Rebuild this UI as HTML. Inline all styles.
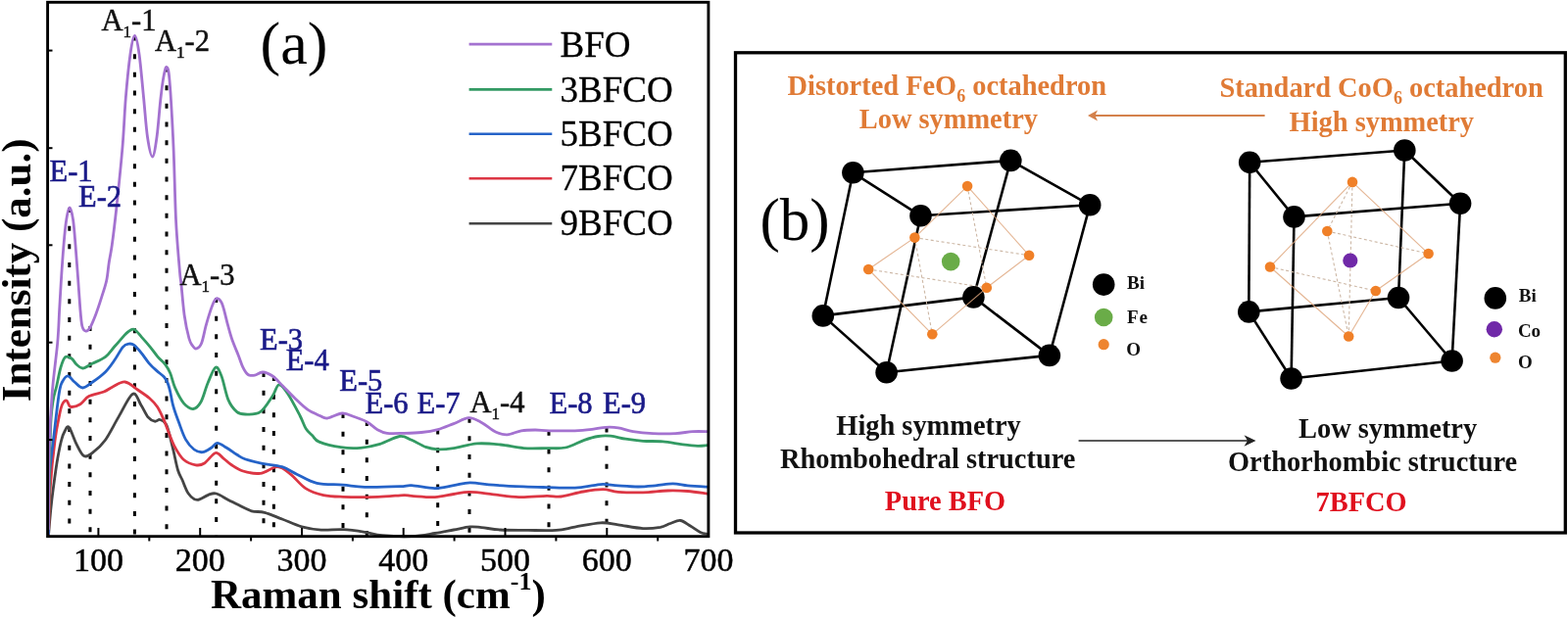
<!DOCTYPE html>
<html><head><meta charset="utf-8"><title>Raman spectra and crystal structure</title>
<style>
html,body{margin:0;padding:0;background:#fff;}
body{width:1600px;height:630px;overflow:hidden;}
svg{display:block;}
.serif{font-family:"Liberation Serif","Times New Roman",serif;}
</style></head><body>
<svg width="1600" height="630" viewBox="0 0 1600 630" font-family="Liberation Serif, Times New Roman, serif">
<rect width="1600" height="630" fill="#fff"/>
<g id="panel-a">
<line x1="70.8" y1="212.0" x2="70.8" y2="547" stroke="#000" stroke-width="3" stroke-dasharray="5 13.67"/>
<line x1="92.0" y1="333.0" x2="92.0" y2="547" stroke="#000" stroke-width="3" stroke-dasharray="5 13.67"/>
<line x1="137.4" y1="36.5" x2="137.4" y2="547" stroke="#000" stroke-width="3" stroke-dasharray="5 13.67"/>
<line x1="170.0" y1="68.5" x2="170.0" y2="547" stroke="#000" stroke-width="3" stroke-dasharray="5 13.67"/>
<line x1="220.7" y1="304.0" x2="220.7" y2="547" stroke="#000" stroke-width="3" stroke-dasharray="5 13.67"/>
<line x1="269.0" y1="380.0" x2="269.0" y2="547" stroke="#000" stroke-width="3" stroke-dasharray="5 13.67"/>
<line x1="279.4" y1="384.0" x2="279.4" y2="547" stroke="#000" stroke-width="3" stroke-dasharray="5 13.67"/>
<line x1="350.0" y1="422.0" x2="350.0" y2="547" stroke="#000" stroke-width="3" stroke-dasharray="5 13.67"/>
<line x1="374.3" y1="430.0" x2="374.3" y2="547" stroke="#000" stroke-width="3" stroke-dasharray="5 13.67"/>
<line x1="446.7" y1="438.6" x2="446.7" y2="547" stroke="#000" stroke-width="3" stroke-dasharray="5 13.67"/>
<line x1="479.0" y1="426.7" x2="479.0" y2="547" stroke="#000" stroke-width="3" stroke-dasharray="5 13.67"/>
<line x1="560.0" y1="439.8" x2="560.0" y2="547" stroke="#000" stroke-width="3" stroke-dasharray="5 13.67"/>
<line x1="619.0" y1="436.5" x2="619.0" y2="547" stroke="#000" stroke-width="3" stroke-dasharray="5 13.67"/>
<path d="M49.5,547.0 C49.7,544.3 50.2,537.0 50.8,531.0 C51.3,525.0 52.0,517.8 52.8,511.0 C53.6,504.2 54.5,497.2 55.5,490.0 C56.5,482.8 57.6,474.7 58.8,468.0 C60.0,461.3 61.3,454.7 62.5,450.0 C63.7,445.3 64.9,442.2 66.2,440.0 C67.5,437.8 68.5,434.3 70.5,436.5 C72.5,438.7 75.5,448.5 78.0,453.3 C80.5,458.1 82.9,464.0 85.7,465.5 C88.5,467.0 91.0,464.9 94.6,462.2 C98.2,459.5 102.9,455.6 107.3,449.5 C111.7,443.4 116.5,433.3 121.2,425.4 C125.9,417.5 131.7,404.2 135.5,402.3 C139.3,400.4 141.4,409.8 144.0,413.7 C146.6,417.6 148.7,423.1 151.0,425.9 C153.3,428.6 155.9,429.8 157.9,430.2 C159.9,430.6 161.3,428.1 163.2,428.5 C165.1,428.9 167.7,430.4 169.3,432.9 C170.9,435.4 171.5,438.6 172.8,443.3 C174.1,448.0 175.7,454.7 177.1,460.8 C178.5,466.9 180.0,475.1 181.5,480.0 C183.0,484.9 184.2,486.0 186.0,490.0 C187.8,494.0 189.8,500.6 192.3,504.0 C194.8,507.4 197.8,510.2 201.2,510.4 C204.6,510.6 209.3,506.4 212.6,505.3 C215.8,504.2 217.3,503.1 220.7,504.0 C224.1,504.9 229.2,508.5 233.0,510.4 C236.8,512.3 239.4,513.7 243.3,515.6 C247.2,517.5 252.2,520.5 256.7,521.8 C261.1,523.1 264.8,521.9 270.0,523.3 C275.2,524.7 281.5,527.6 287.8,530.0 C294.1,532.4 301.1,535.9 307.8,537.8 C314.5,539.6 320.8,540.6 327.8,541.1 C334.8,541.6 342.6,540.3 350.0,540.7 C357.4,541.1 365.5,542.3 372.2,543.3 C378.9,544.3 382.0,546.0 390.0,546.7 C398.0,547.4 411.0,548.0 420.0,547.6 C429.0,547.2 436.7,545.6 443.8,544.5 C450.9,543.4 456.9,542.1 462.9,541.0 C468.8,539.9 474.8,538.3 479.5,537.9 C484.2,537.5 486.2,538.1 491.4,538.6 C496.6,539.1 502.6,540.5 510.5,541.0 C518.4,541.5 529.5,541.3 539.0,541.4 C548.5,541.5 559.6,541.9 567.6,541.4 C575.6,540.9 579.1,539.4 586.7,538.1 C594.3,536.8 605.6,534.2 613.0,533.8 C620.4,533.4 623.6,534.8 630.8,535.8 C638.0,536.8 648.9,539.2 656.1,539.6 C663.3,540.0 669.2,539.1 673.9,538.3 C678.5,537.4 680.6,535.6 684.0,534.5 C687.4,533.4 690.8,531.1 694.2,531.5 C697.6,531.9 701.0,535.0 704.4,537.0 C707.8,539.0 711.6,542.0 714.5,543.4 C717.4,544.8 720.8,545.1 722.0,545.4" fill="none" stroke="#444444" stroke-width="2.8" stroke-linejoin="round" stroke-linecap="round"/>
<path d="M49.5,546.0 C49.8,537.7 50.3,512.4 51.4,496.4 C52.5,480.4 54.5,461.8 56.0,450.0 C57.5,438.2 59.0,431.6 60.3,425.4 C61.5,419.2 62.2,415.7 63.5,413.0 C64.8,410.3 66.6,408.6 68.0,409.0 C69.4,409.4 69.7,414.7 72.0,415.3 C74.3,415.9 78.8,414.5 81.9,412.7 C85.0,410.9 86.8,406.6 90.8,404.5 C94.8,402.4 102.0,401.6 106.0,400.0 C110.0,398.4 111.4,396.7 115.0,395.0 C118.6,393.3 123.3,389.5 127.6,390.0 C131.8,390.5 136.3,395.2 140.5,398.0 C144.7,400.8 149.3,403.8 152.7,406.7 C156.0,409.6 158.1,411.6 160.6,415.4 C163.1,419.2 165.5,424.8 167.5,429.4 C169.5,434.0 170.9,438.6 172.8,443.3 C174.7,448.0 176.4,452.9 178.9,457.3 C181.4,461.7 184.1,466.6 187.6,469.5 C191.1,472.4 196.3,474.2 199.8,474.8 C203.3,475.4 205.2,475.1 208.6,473.0 C211.9,470.9 216.7,463.4 219.9,462.5 C223.1,461.6 225.1,465.8 227.8,467.8 C230.5,469.8 232.6,472.3 236.0,474.5 C239.4,476.7 243.1,479.5 248.0,481.0 C252.9,482.5 259.7,484.0 265.6,483.3 C271.5,482.6 278.1,476.5 283.3,476.7 C288.5,476.9 291.9,480.7 296.7,484.4 C301.5,488.1 306.6,495.4 312.2,498.9 C317.8,502.4 323.7,504.2 330.0,505.6 C336.3,507.0 340.7,507.0 350.0,507.3 C359.3,507.6 375.2,507.6 385.6,507.3 C396.0,507.0 406.5,505.8 412.2,505.6 C417.9,505.5 414.7,506.1 420.0,506.4 C425.3,506.7 436.7,507.9 443.8,507.6 C450.9,507.3 456.9,505.4 462.9,504.5 C468.8,503.6 472.8,502.3 479.5,502.4 C486.2,502.4 495.0,503.9 503.3,504.8 C511.6,505.7 520.4,507.3 529.5,507.6 C538.6,507.9 550.9,506.5 558.0,506.4 C565.1,506.3 566.2,507.7 572.4,507.0 C578.6,506.3 588.0,503.2 595.2,502.0 C602.4,500.8 609.6,499.6 615.5,499.7 C621.4,499.8 624.0,501.8 630.8,502.3 C637.6,502.8 647.6,503.0 656.1,502.8 C664.6,502.6 673.9,501.2 681.5,501.0 C689.1,500.8 695.0,501.0 701.8,501.5 C708.5,502.0 718.6,503.7 722.0,504.1" fill="none" stroke="#dc3644" stroke-width="2.8" stroke-linejoin="round" stroke-linecap="round"/>
<path d="M49.5,545.0 C49.6,535.6 49.2,505.8 50.2,488.8 C51.2,471.8 53.5,457.6 55.2,443.0 C56.9,428.4 58.9,410.3 60.3,401.5 C61.7,392.7 62.0,392.9 63.5,390.0 C65.0,387.1 67.1,383.8 69.2,383.8 C71.3,383.8 73.5,388.0 76.0,390.0 C78.5,392.0 81.3,396.0 84.4,396.0 C87.5,396.0 90.7,392.7 94.6,390.0 C98.5,387.3 103.9,383.3 107.6,379.7 C111.2,376.1 113.5,372.5 116.5,368.3 C119.5,364.1 122.9,357.2 125.4,354.3 C127.9,351.4 129.8,351.4 131.7,351.1 C133.6,350.8 134.7,350.8 136.8,352.4 C138.9,354.0 141.9,357.5 144.4,360.6 C146.9,363.7 149.4,367.8 152.0,370.8 C154.6,373.8 157.1,376.1 159.7,378.4 C162.2,380.7 165.4,382.7 167.3,384.8 C169.2,386.9 170.0,388.6 171.1,391.1 C172.2,393.6 172.8,396.2 173.7,400.0 C174.6,403.8 175.1,408.5 176.5,413.7 C177.9,418.9 180.2,425.3 182.4,431.1 C184.6,436.9 186.8,444.0 189.4,448.6 C192.0,453.2 195.2,456.8 198.1,459.0 C201.0,461.2 203.9,462.0 206.8,461.7 C209.7,461.4 213.1,458.9 215.6,457.3 C218.1,455.8 219.1,452.4 221.7,452.4 C224.3,452.4 228.0,455.3 231.3,457.3 C234.7,459.3 238.7,462.4 241.8,464.3 C244.9,466.2 245.7,467.2 250.0,468.7 C254.3,470.2 261.5,472.0 267.8,473.3 C274.1,474.6 281.9,474.9 287.8,476.7 C293.7,478.5 297.4,481.6 303.3,484.4 C309.2,487.2 315.5,491.5 323.3,493.3 C331.1,495.1 341.9,494.4 350.0,495.1 C358.1,495.8 362.6,497.0 372.2,497.3 C381.8,497.6 399.8,497.0 407.8,496.7 C415.8,496.4 414.0,495.4 420.0,495.7 C426.0,496.0 436.7,498.6 443.8,498.6 C450.9,498.6 456.9,496.6 462.9,495.7 C468.8,494.8 472.8,493.0 479.5,492.9 C486.2,492.8 494.2,494.5 503.3,495.2 C512.4,495.9 525.2,496.5 534.3,496.9 C543.4,497.3 549.3,497.4 558.0,497.6 C566.7,497.8 578.8,498.4 586.7,498.1 C594.7,497.8 600.9,496.3 605.7,495.7 C610.5,495.1 611.3,494.4 615.5,494.4 C619.7,494.4 624.9,495.5 630.8,495.9 C636.7,496.3 644.8,497.0 651.1,497.0 C657.4,497.0 662.9,496.4 668.8,495.9 C674.7,495.4 681.1,493.9 686.6,493.9 C692.1,493.9 695.9,495.3 701.8,495.9 C707.7,496.4 718.6,497.0 722.0,497.2" fill="none" stroke="#2563c8" stroke-width="2.8" stroke-linejoin="round" stroke-linecap="round"/>
<path d="M49.5,540.0 C49.8,523.7 50.6,463.7 51.4,442.0 C52.1,420.3 52.9,418.0 54.0,410.0 C55.1,402.0 56.5,399.8 57.8,394.0 C59.1,388.2 60.5,379.9 62.0,375.0 C63.5,370.1 64.8,366.2 66.6,364.7 C68.4,363.2 71.1,364.8 73.0,366.0 C74.9,367.2 76.1,370.3 78.0,372.0 C79.9,373.7 81.6,376.2 84.4,376.0 C87.2,375.8 90.7,372.9 94.6,371.0 C98.5,369.1 103.9,367.2 107.6,364.4 C111.2,361.6 113.5,357.7 116.5,354.3 C119.5,350.9 123.1,346.7 125.4,344.1 C127.7,341.6 128.6,340.3 130.5,339.0 C132.4,337.7 134.5,335.4 136.8,336.3 C139.1,337.2 141.7,341.1 144.4,344.1 C147.2,347.1 150.5,350.9 153.3,354.3 C156.1,357.7 158.4,361.4 161.0,364.4 C163.6,367.4 166.5,369.3 168.6,372.1 C170.7,374.9 172.0,377.0 173.7,381.0 C175.4,385.0 176.4,391.1 178.7,396.2 C181.0,401.3 184.5,408.3 187.6,411.9 C190.7,415.4 194.3,417.8 197.2,417.5 C200.1,417.2 202.6,414.6 205.1,410.2 C207.6,405.8 209.6,396.8 212.1,391.0 C214.6,385.2 217.6,376.4 219.9,375.2 C222.2,374.0 223.8,378.5 226.0,384.0 C228.2,389.5 230.4,402.3 233.0,408.4 C235.6,414.5 238.9,418.2 241.8,420.6 C244.7,423.0 246.4,423.0 250.3,423.0 C254.2,423.0 260.9,423.8 265.5,420.7 C270.1,417.6 275.0,408.8 278.2,404.2 C281.4,399.6 282.1,393.2 284.6,392.8 C287.2,392.4 289.9,396.4 293.5,401.7 C297.1,407.0 303.0,418.5 306.1,424.5 C309.2,430.5 310.1,434.4 312.2,437.8 C314.3,441.2 316.6,442.6 318.8,444.8 C321.0,447.0 320.8,449.1 325.6,451.1 C330.4,453.1 340.8,455.7 347.8,456.7 C354.8,457.7 361.1,457.9 367.8,457.3 C374.5,456.7 381.1,455.3 387.8,453.3 C394.5,451.3 402.4,446.2 407.8,445.5 C413.2,444.8 415.6,447.5 420.0,449.3 C424.4,451.1 429.9,454.8 434.3,456.4 C438.8,458.0 441.9,458.6 446.7,458.8 C451.5,459.0 456.2,458.6 462.9,457.6 C469.6,456.6 478.8,453.5 486.7,452.9 C494.6,452.3 502.6,453.2 510.5,454.0 C518.4,454.8 526.4,457.0 534.3,457.6 C542.2,458.2 550.9,457.7 558.0,457.6 C565.1,457.5 570.6,458.4 577.0,457.0 C583.4,455.6 590.6,451.2 596.2,449.3 C601.8,447.4 606.0,446.2 610.5,445.5 C615.0,444.8 618.5,444.8 623.1,445.2 C627.8,445.6 632.9,447.3 638.4,448.2 C643.9,449.1 649.8,449.9 656.1,450.3 C662.4,450.7 669.6,450.2 676.4,450.8 C683.2,451.4 690.9,453.1 696.8,453.8 C702.7,454.6 707.8,455.2 712.0,455.3 C716.2,455.4 720.3,454.7 722.0,454.6" fill="none" stroke="#339a63" stroke-width="2.8" stroke-linejoin="round" stroke-linecap="round"/>
<path d="M49.5,540.0 C49.6,526.7 49.6,483.1 50.2,460.0 C50.8,436.9 51.8,419.8 53.2,401.5 C54.6,383.2 57.4,364.7 58.7,350.0 C60.0,335.3 60.1,324.9 60.8,313.5 C61.5,302.1 62.0,292.3 62.7,281.7 C63.4,271.1 64.2,259.6 65.0,250.0 C65.8,240.4 66.8,230.3 67.8,224.0 C68.8,217.7 69.9,212.0 71.0,212.0 C72.1,212.0 73.5,217.7 74.5,224.0 C75.5,230.3 76.2,240.4 77.0,250.0 C77.8,259.6 78.6,271.1 79.4,281.7 C80.2,292.3 81.0,305.0 81.7,313.5 C82.4,322.0 82.8,328.4 83.7,332.5 C84.6,336.6 86.0,337.6 87.3,338.0 C88.6,338.4 89.9,337.8 91.6,335.0 C93.3,332.2 95.5,326.8 97.6,321.4 C99.7,316.0 102.2,308.2 104.0,302.4 C105.8,296.6 107.5,292.1 108.7,286.5 C109.9,280.9 110.2,275.1 111.1,269.0 C112.0,262.9 113.0,259.2 114.3,250.0 C115.6,240.8 116.9,230.2 118.7,213.5 C120.5,196.8 123.4,168.9 125.0,150.0 C126.6,131.1 127.0,115.8 128.3,100.0 C129.6,84.2 131.5,65.6 133.0,55.0 C134.5,44.4 136.0,36.5 137.5,36.5 C139.0,36.5 140.5,44.4 142.0,55.0 C143.5,65.6 145.2,85.8 146.6,100.0 C148.0,114.2 149.0,130.0 150.5,140.0 C152.0,150.0 153.9,160.0 155.5,160.0 C157.1,160.0 158.6,150.0 160.0,140.0 C161.4,130.0 162.8,110.3 164.0,100.0 C165.2,89.7 166.0,83.2 167.0,78.0 C168.0,72.8 169.0,67.8 170.0,68.5 C171.0,69.2 171.8,68.4 173.0,82.0 C174.2,95.6 175.9,126.0 177.0,150.0 C178.1,174.0 178.5,204.8 179.6,226.0 C180.7,247.2 182.5,266.3 183.4,277.0 C184.3,287.7 184.1,282.6 184.9,290.0 C185.7,297.4 186.8,312.4 188.1,321.7 C189.4,330.9 191.5,340.3 192.9,345.5 C194.3,350.7 195.3,351.2 196.5,353.0 C197.7,354.8 198.8,356.4 200.3,356.0 C201.8,355.6 204.0,354.4 205.6,350.5 C207.2,346.6 208.6,338.2 210.1,332.7 C211.6,327.2 213.2,321.8 214.6,317.6 C216.0,313.5 217.2,310.0 218.4,307.8 C219.6,305.6 220.2,304.5 221.5,304.6 C222.8,304.7 224.7,306.4 225.9,308.6 C227.1,310.8 227.8,313.6 228.9,317.6 C230.0,321.6 231.3,327.7 232.7,332.7 C234.1,337.7 235.4,342.8 237.2,347.8 C239.0,352.8 241.5,358.4 243.3,362.9 C245.1,367.4 246.2,371.6 247.8,374.9 C249.4,378.2 251.1,381.1 253.1,382.5 C255.1,383.9 257.4,383.6 259.9,383.2 C262.4,382.8 264.9,379.9 268.0,380.0 C271.1,380.1 274.8,381.7 278.2,384.0 C281.6,386.3 284.6,390.2 288.4,394.0 C292.2,397.8 296.8,402.8 301.0,406.8 C305.2,410.8 309.6,415.2 313.8,418.2 C318.0,421.1 323.0,423.0 326.4,424.5 C329.8,426.0 330.2,427.4 334.0,427.0 C337.8,426.6 344.6,422.2 349.3,422.0 C354.0,421.8 357.8,424.3 362.0,425.8 C366.2,427.3 370.9,428.8 374.7,430.9 C378.5,433.0 381.4,436.6 384.8,438.5 C388.2,440.4 390.4,441.7 395.0,442.3 C399.6,442.9 406.9,442.4 412.7,442.3 C418.5,442.2 424.3,442.1 430.0,441.5 C435.7,440.9 441.2,440.1 446.7,438.6 C452.2,437.1 457.6,434.6 462.9,432.6 C468.2,430.6 473.6,426.9 478.3,426.7 C483.1,426.5 486.8,429.0 491.4,431.4 C496.0,433.8 501.3,438.9 505.7,441.0 C510.1,443.1 513.2,444.0 517.6,443.8 C522.0,443.6 527.1,440.6 531.9,439.8 C536.7,439.0 541.4,439.0 546.2,439.0 C551.0,439.0 553.8,439.7 560.5,439.8 C567.2,439.9 579.2,440.1 586.7,439.8 C594.2,439.5 600.5,438.7 605.7,438.1 C610.9,437.5 613.8,436.5 618.0,436.3 C622.2,436.1 626.1,436.1 630.8,436.8 C635.5,437.5 640.1,439.6 646.0,440.6 C651.9,441.6 659.1,442.3 666.3,442.6 C673.5,442.9 682.3,442.9 689.1,442.6 C695.9,442.3 701.4,440.9 706.9,440.6 C712.4,440.3 719.5,440.6 722.0,440.6" fill="none" stroke="#a472d0" stroke-width="2.8" stroke-linejoin="round" stroke-linecap="round"/>
<rect x="48.6" y="2.3" width="674.3" height="545.4" fill="none" stroke="#000" stroke-width="2.9"/>
<line x1="100.4" y1="547" x2="100.4" y2="539" stroke="#000" stroke-width="2"/>
<line x1="204.2" y1="547" x2="204.2" y2="539" stroke="#000" stroke-width="2"/>
<line x1="308.0" y1="547" x2="308.0" y2="539" stroke="#000" stroke-width="2"/>
<line x1="411.7" y1="547" x2="411.7" y2="539" stroke="#000" stroke-width="2"/>
<line x1="515.5" y1="547" x2="515.5" y2="539" stroke="#000" stroke-width="2"/>
<line x1="619.3" y1="547" x2="619.3" y2="539" stroke="#000" stroke-width="2"/>
<line x1="152.3" y1="548" x2="152.3" y2="552.5" stroke="#000" stroke-width="2"/>
<line x1="256.1" y1="548" x2="256.1" y2="552.5" stroke="#000" stroke-width="2"/>
<line x1="359.9" y1="548" x2="359.9" y2="552.5" stroke="#000" stroke-width="2"/>
<line x1="463.6" y1="548" x2="463.6" y2="552.5" stroke="#000" stroke-width="2"/>
<line x1="567.4" y1="548" x2="567.4" y2="552.5" stroke="#000" stroke-width="2"/>
<line x1="671.2" y1="548" x2="671.2" y2="552.5" stroke="#000" stroke-width="2"/>
<line x1="49" y1="51.6" x2="53.5" y2="51.6" stroke="#000" stroke-width="2"/>
<line x1="49" y1="151.2" x2="53.5" y2="151.2" stroke="#000" stroke-width="2"/>
<line x1="49" y1="250.3" x2="53.5" y2="250.3" stroke="#000" stroke-width="2"/>
<line x1="49" y1="349.7" x2="53.5" y2="349.7" stroke="#000" stroke-width="2"/>
<line x1="49" y1="449.1" x2="53.5" y2="449.1" stroke="#000" stroke-width="2"/>
<text x="100.4" y="582.6" font-size="34" text-anchor="middle" stroke="#000" stroke-width="0.5">100</text>
<text x="204.2" y="582.6" font-size="34" text-anchor="middle" stroke="#000" stroke-width="0.5">200</text>
<text x="308.0" y="582.6" font-size="34" text-anchor="middle" stroke="#000" stroke-width="0.5">300</text>
<text x="411.7" y="582.6" font-size="34" text-anchor="middle" stroke="#000" stroke-width="0.5">400</text>
<text x="515.5" y="582.6" font-size="34" text-anchor="middle" stroke="#000" stroke-width="0.5">500</text>
<text x="619.3" y="582.6" font-size="34" text-anchor="middle" stroke="#000" stroke-width="0.5">600</text>
<text x="723.1" y="582.6" font-size="34" text-anchor="middle" stroke="#000" stroke-width="0.5">700</text>
<text x="215" y="620.5" font-size="43" font-weight="bold">Raman shift (cm<tspan font-size="26" dy="-19">-1</tspan><tspan dy="19">)</tspan></text>
<text transform="translate(30.8,410.3) rotate(-90)" font-size="43" font-weight="bold">Intensity (a.u.)</text>
<text x="265.5" y="65" font-size="62">(a)</text>
<line x1="478.6" y1="45.1" x2="563.3" y2="45.1" stroke="#a472d0" stroke-width="2.6"/>
<text x="571.5" y="58.1" font-size="37" stroke="#000" stroke-width="0.3">BFO</text>
<line x1="478.6" y1="91.4" x2="563.3" y2="91.4" stroke="#339a63" stroke-width="2.6"/>
<text x="571.5" y="103.8" font-size="37" stroke="#000" stroke-width="0.3">3BFCO</text>
<line x1="478.6" y1="136.7" x2="563.3" y2="136.7" stroke="#2563c8" stroke-width="2.6"/>
<text x="571.5" y="148.9" font-size="37" stroke="#000" stroke-width="0.3">5BFCO</text>
<line x1="478.6" y1="182.2" x2="563.3" y2="182.2" stroke="#dc3644" stroke-width="2.6"/>
<text x="571.5" y="194.4" font-size="37" stroke="#000" stroke-width="0.3">7BFCO</text>
<line x1="478.6" y1="228.2" x2="563.3" y2="228.2" stroke="#444444" stroke-width="2.6"/>
<text x="571.5" y="240.0" font-size="37" stroke="#000" stroke-width="0.3">9BFCO</text>
<text x="103.5" y="30.5" font-size="30.5" fill="#111" stroke="#111" stroke-width="0.5">A<tspan font-size="17" dy="7">1</tspan><tspan dy="-7">-1</tspan></text>
<text x="158.0" y="52.0" font-size="30.5" fill="#111" stroke="#111" stroke-width="0.5">A<tspan font-size="17" dy="7">1</tspan><tspan dy="-7">-2</tspan></text>
<text x="183.5" y="291.0" font-size="30.5" fill="#111" stroke="#111" stroke-width="0.5">A<tspan font-size="17" dy="7">1</tspan><tspan dy="-7">-3</tspan></text>
<text x="479.5" y="421.4" font-size="30.5" fill="#111" stroke="#111" stroke-width="0.5">A<tspan font-size="17" dy="7">1</tspan><tspan dy="-7">-4</tspan></text>
<text x="50.5" y="184.8" font-size="30.5" fill="#1a1a88" stroke="#1a1a88" stroke-width="0.6">E-1</text>
<text x="80.0" y="210.7" font-size="30.5" fill="#1a1a88" stroke="#1a1a88" stroke-width="0.6">E-2</text>
<text x="265.0" y="356.5" font-size="30.5" fill="#1a1a88" stroke="#1a1a88" stroke-width="0.6">E-3</text>
<text x="291.7" y="377.6" font-size="30.5" fill="#1a1a88" stroke="#1a1a88" stroke-width="0.6">E-4</text>
<text x="346.3" y="399.1" font-size="30.5" fill="#1a1a88" stroke="#1a1a88" stroke-width="0.6">E-5</text>
<text x="372.5" y="421.8" font-size="30.5" fill="#1a1a88" stroke="#1a1a88" stroke-width="0.6">E-6</text>
<text x="425.5" y="421.6" font-size="30.5" fill="#1a1a88" stroke="#1a1a88" stroke-width="0.6">E-7</text>
<text x="560.5" y="421.6" font-size="30.5" fill="#1a1a88" stroke="#1a1a88" stroke-width="0.6">E-8</text>
<text x="615.0" y="421.6" font-size="30.5" fill="#1a1a88" stroke="#1a1a88" stroke-width="0.6">E-9</text>
</g>
<g id="panel-b">
<rect x="750.5" y="53.8" width="846.8" height="490.2" fill="none" stroke="#000" stroke-width="3.3"/>
<text x="775.5" y="244.5" font-size="61">(b)</text>
<g font-weight="bold" font-size="28.4" fill="#e07b36">
<text x="803.5" y="97">Distorted FeO<tspan font-size="18" dy="7">6</tspan><tspan dy="-7"> octahedron</tspan></text>
<text x="876.8" y="131">Low symmetry</text>
<text x="1244.4" y="99">Standard CoO<tspan font-size="18" dy="7">6</tspan><tspan dy="-7"> octahedron</tspan></text>
<text x="1315.6" y="133.7">High symmetry</text>
</g>
<line x1="1117" y1="118" x2="1290.6" y2="118" stroke="#d4814c" stroke-width="2.2"/>
<path d="M1110,118 L1120,112.6 L1117.5,118 L1120,123.4 Z" fill="#d4814c"/>
<g font-weight="bold" font-size="28.4" fill="#111">
<text x="853.3" y="444.3">High symmetry</text>
<text x="795.9" y="478.3">Rhombohedral structure</text>
<text x="1325" y="446.9">Low symmetry</text>
<text x="1253" y="480.8">Orthorhombic structure</text>
</g>
<g font-weight="bold" font-size="28.4" fill="#e0101e">
<text x="902.8" y="520.6">Pure BFO</text>
<text x="1342.5" y="522">7BFCO</text>
</g>
<line x1="1100.6" y1="450" x2="1276" y2="450" stroke="#222" stroke-width="1.6"/>
<path d="M1269.5,444.3 L1281.5,450 L1269.5,455.7 L1273,450 Z" fill="#222"/>
<line x1="870.4" y1="176.3" x2="1031.3" y2="163.9" stroke="#000" stroke-width="2.6"/>
<line x1="870.4" y1="176.3" x2="939.5" y2="220.3" stroke="#000" stroke-width="2.6"/>
<line x1="1031.3" y1="163.9" x2="1112.2" y2="209.3" stroke="#000" stroke-width="2.6"/>
<line x1="939.5" y1="220.3" x2="1112.2" y2="209.3" stroke="#000" stroke-width="2.6"/>
<line x1="839.8" y1="322.4" x2="993.4" y2="303.4" stroke="#000" stroke-width="2.6"/>
<line x1="839.8" y1="322.4" x2="904.6" y2="380.2" stroke="#000" stroke-width="2.6"/>
<line x1="993.4" y1="303.4" x2="1070.9" y2="362.9" stroke="#000" stroke-width="2.6"/>
<line x1="904.6" y1="380.2" x2="1070.9" y2="362.9" stroke="#000" stroke-width="2.6"/>
<line x1="870.4" y1="176.3" x2="839.8" y2="322.4" stroke="#000" stroke-width="2.6"/>
<line x1="1031.3" y1="163.9" x2="993.4" y2="303.4" stroke="#000" stroke-width="2.6"/>
<line x1="939.5" y1="220.3" x2="904.6" y2="380.2" stroke="#000" stroke-width="2.6"/>
<line x1="1112.2" y1="209.3" x2="1070.9" y2="362.9" stroke="#000" stroke-width="2.6"/>
<line x1="987.1" y1="190.1" x2="1006.8" y2="293.8" stroke="#cdb8a6" stroke-width="1.1" stroke-dasharray="3 2.5"/>
<line x1="933.4" y1="242.6" x2="951.3" y2="341.3" stroke="#cdb8a6" stroke-width="1.1" stroke-dasharray="3 2.5"/>
<line x1="933.4" y1="242.6" x2="1050.1" y2="260.8" stroke="#cdb8a6" stroke-width="1.1" stroke-dasharray="3 2.5"/>
<line x1="886.2" y1="275.0" x2="1006.8" y2="293.8" stroke="#cdb8a6" stroke-width="1.1" stroke-dasharray="3 2.5"/>
<circle cx="970.2" cy="267.1" r="9.3" fill="#6aac48"/>
<circle cx="870.4" cy="176.3" r="11.3" fill="#000"/>
<circle cx="1031.3" cy="163.9" r="11.3" fill="#000"/>
<circle cx="939.5" cy="220.3" r="11.3" fill="#000"/>
<circle cx="1112.2" cy="209.3" r="11.3" fill="#000"/>
<circle cx="839.8" cy="322.4" r="11.3" fill="#000"/>
<circle cx="993.4" cy="303.4" r="11.3" fill="#000"/>
<circle cx="904.6" cy="380.2" r="11.3" fill="#000"/>
<circle cx="1070.9" cy="362.9" r="11.3" fill="#000"/>
<line x1="987.1" y1="190.1" x2="933.4" y2="242.6" stroke="#dfa880" stroke-width="1.1" stroke-opacity="0.85"/>
<line x1="987.1" y1="190.1" x2="1050.1" y2="260.8" stroke="#dfa880" stroke-width="1.1" stroke-opacity="0.85"/>
<line x1="933.4" y1="242.6" x2="886.2" y2="275.0" stroke="#dfa880" stroke-width="1.1" stroke-opacity="0.85"/>
<line x1="886.2" y1="275.0" x2="951.3" y2="341.3" stroke="#dfa880" stroke-width="1.1" stroke-opacity="0.85"/>
<line x1="951.3" y1="341.3" x2="1006.8" y2="293.8" stroke="#dfa880" stroke-width="1.1" stroke-opacity="0.85"/>
<line x1="1006.8" y1="293.8" x2="1050.1" y2="260.8" stroke="#dfa880" stroke-width="1.1" stroke-opacity="0.85"/>
<circle cx="987.1" cy="190.1" r="5.3" fill="#f08028"/>
<circle cx="933.4" cy="242.6" r="5.3" fill="#f08028"/>
<circle cx="886.2" cy="275.0" r="5.3" fill="#f08028"/>
<circle cx="1050.1" cy="260.8" r="5.3" fill="#f08028"/>
<circle cx="1006.8" cy="293.8" r="5.3" fill="#f08028"/>
<circle cx="951.3" cy="341.3" r="5.3" fill="#f08028"/>
<line x1="1275.2" y1="165.7" x2="1433.3" y2="153.5" stroke="#000" stroke-width="2.6"/>
<line x1="1275.2" y1="165.7" x2="1320.5" y2="221.4" stroke="#000" stroke-width="2.6"/>
<line x1="1433.3" y1="153.5" x2="1490.1" y2="207.7" stroke="#000" stroke-width="2.6"/>
<line x1="1320.5" y1="221.4" x2="1490.1" y2="207.7" stroke="#000" stroke-width="2.6"/>
<line x1="1274.3" y1="318.4" x2="1427.0" y2="304.0" stroke="#000" stroke-width="2.6"/>
<line x1="1274.3" y1="318.4" x2="1317.6" y2="386.5" stroke="#000" stroke-width="2.6"/>
<line x1="1427.0" y1="304.0" x2="1481.6" y2="368.5" stroke="#000" stroke-width="2.6"/>
<line x1="1317.6" y1="386.5" x2="1481.6" y2="368.5" stroke="#000" stroke-width="2.6"/>
<line x1="1275.2" y1="165.7" x2="1274.3" y2="318.4" stroke="#000" stroke-width="2.6"/>
<line x1="1433.3" y1="153.5" x2="1427.0" y2="304.0" stroke="#000" stroke-width="2.6"/>
<line x1="1320.5" y1="221.4" x2="1317.6" y2="386.5" stroke="#000" stroke-width="2.6"/>
<line x1="1490.1" y1="207.7" x2="1481.6" y2="368.5" stroke="#000" stroke-width="2.6"/>
<line x1="1380.0" y1="185.9" x2="1376.2" y2="343.5" stroke="#cdb8a6" stroke-width="1.1" stroke-dasharray="3 2.5"/>
<line x1="1354.3" y1="236.0" x2="1457.6" y2="259.0" stroke="#cdb8a6" stroke-width="1.1" stroke-dasharray="3 2.5"/>
<line x1="1296.0" y1="272.5" x2="1403.8" y2="297.0" stroke="#cdb8a6" stroke-width="1.1" stroke-dasharray="3 2.5"/>
<line x1="1354.3" y1="236.0" x2="1376.2" y2="343.5" stroke="#cdb8a6" stroke-width="1.1" stroke-dasharray="3 2.5"/>
<line x1="1380.0" y1="185.9" x2="1354.3" y2="236.0" stroke="#cdb8a6" stroke-width="1.1" stroke-dasharray="3 2.5"/>
<circle cx="1377.8" cy="266.0" r="7.6" fill="#7029a8"/>
<circle cx="1275.2" cy="165.7" r="11.3" fill="#000"/>
<circle cx="1433.3" cy="153.5" r="11.3" fill="#000"/>
<circle cx="1320.5" cy="221.4" r="11.3" fill="#000"/>
<circle cx="1490.1" cy="207.7" r="11.3" fill="#000"/>
<circle cx="1274.3" cy="318.4" r="11.3" fill="#000"/>
<circle cx="1427.0" cy="304.0" r="11.3" fill="#000"/>
<circle cx="1317.6" cy="386.5" r="11.3" fill="#000"/>
<circle cx="1481.6" cy="368.5" r="11.3" fill="#000"/>
<line x1="1380.0" y1="185.9" x2="1296.0" y2="272.5" stroke="#dfa880" stroke-width="1.1" stroke-opacity="0.85"/>
<line x1="1380.0" y1="185.9" x2="1457.6" y2="259.0" stroke="#dfa880" stroke-width="1.1" stroke-opacity="0.85"/>
<line x1="1296.0" y1="272.5" x2="1376.2" y2="343.5" stroke="#dfa880" stroke-width="1.1" stroke-opacity="0.85"/>
<line x1="1376.2" y1="343.5" x2="1403.8" y2="297.0" stroke="#dfa880" stroke-width="1.1" stroke-opacity="0.85"/>
<line x1="1403.8" y1="297.0" x2="1457.6" y2="259.0" stroke="#dfa880" stroke-width="1.1" stroke-opacity="0.85"/>
<circle cx="1380.0" cy="185.9" r="5.3" fill="#f08028"/>
<circle cx="1354.3" cy="236.0" r="5.3" fill="#f08028"/>
<circle cx="1296.0" cy="272.5" r="5.3" fill="#f08028"/>
<circle cx="1457.6" cy="259.0" r="5.3" fill="#f08028"/>
<circle cx="1403.8" cy="297.0" r="5.3" fill="#f08028"/>
<circle cx="1376.2" cy="343.5" r="5.3" fill="#f08028"/>
<circle cx="1126.2" cy="290.6" r="11.3" fill="#000"/>
<circle cx="1126.2" cy="324" r="9.3" fill="#6aac48"/>
<circle cx="1126.2" cy="351.7" r="5.6" fill="#ee8530"/>
<circle cx="1525.8" cy="304.4" r="11.3" fill="#000"/>
<circle cx="1524.8" cy="336.2" r="8.2" fill="#7029a8"/>
<circle cx="1525.8" cy="365.2" r="5.6" fill="#ee8530"/>
<g font-weight="bold" font-size="19" fill="#111">
<text x="1150" y="294.6">Bi</text>
<text x="1150" y="330.3" letter-spacing="1">Fe</text>
<text x="1149.2" y="362.9">O</text>
<text x="1549.8" y="307.9">Bi</text>
<text x="1548.9" y="343.7">Co</text>
<text x="1548.9" y="376">O</text>
</g>
</g>
</svg>
</body></html>
